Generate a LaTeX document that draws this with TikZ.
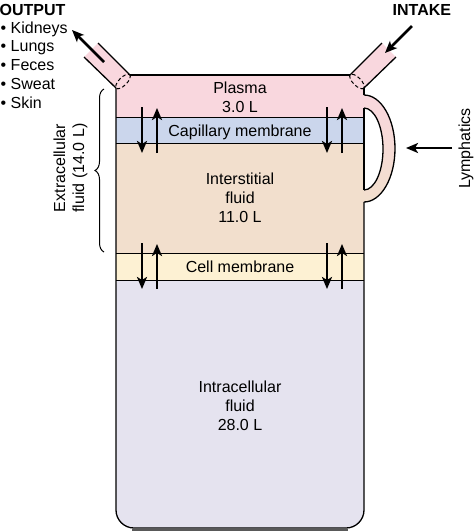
\documentclass[tikz,border=0pt]{standalone}
\usepackage{fontspec}
\setmainfont{Liberation Sans}
\usetikzlibrary{arrows.meta,decorations.pathreplacing,positioning}

\definecolor{plasmapink}{HTML}{F9D7DE}
\definecolor{capblue}{HTML}{CBD6EC}
\definecolor{istan}{HTML}{F2DFCD}
\definecolor{cellyellow}{HTML}{FDF1D3}
\definecolor{iclav}{HTML}{E5E3EF}

\tikzset{
  wall/.style={line width=1.3pt},
  sep/.style={line width=1pt},
  flux/.style={line width=2.5pt, -{Stealth[length=12pt,width=10pt,inset=3pt]}},
  fluidtext/.style={font=\fontsize{16}{19}\selectfont, align=center, inner sep=0pt, anchor=base},
  listitem/.style={font=\fontsize{16}{19}\selectfont, inner sep=0pt, anchor=base west},
  joint/.style={line width=1pt, dash pattern=on 3.5pt off 2.5pt},
}

\begin{document}
\begin{tikzpicture}[x=1pt,y=-1pt]
    \useasboundingbox (0,0) rectangle (474,531);

    % spouts
    \fill[plasmapink] (130,75) -- (98,43) -- (84,57) -- (116,88) -- cycle;
    \fill[plasmapink] (350,75) -- (382,43) -- (396,57) -- (364,88) -- cycle;

    % compartments
    \fill[iclav, rounded corners=18pt] (116,270) rectangle (364,528);
    \fill[plasmapink] (116,88) -- (130,75) -- (350,75) -- (364,88) -- (364,117) -- (116,117) -- cycle;
    \fill[capblue] (116,117) rectangle (364,143);
    \fill[istan] (116,143) rectangle (364,253);
    \fill[cellyellow] (116,253) rectangle (364,280);
    \fill[black!65] (132,528.5) rectangle (348,532);

    % handle
    \shade[top color=plasmapink, bottom color=istan]
        (364,95) arc[start angle=-90, end angle=90, x radius=31, y radius=53.5]
        -- (364,190) arc[start angle=90, end angle=-90, x radius=19, y radius=41] -- cycle;
    \draw[wall] (364,95) arc[start angle=-90, end angle=90, x radius=31, y radius=53.5];
    \draw[wall] (364,190) arc[start angle=90, end angle=-90, x radius=19, y radius=41];

    % membranes
    \draw[sep] (116,117) -- (364,117);
    \draw[sep] (116,143) -- (364,143);
    \draw[sep] (116,253) -- (364,253);
    \draw[sep] (116,280) -- (364,280);

    % outline
    \draw[wall] (130,75) -- (98,43);
    \draw[wall] (116,88) -- (84,57);
    \draw[wall] (350,75) -- (382,43);
    \draw[wall] (364,88) -- (396,57);
    \draw[wall] (130,75) -- (350,75);
    \draw[wall] (364,88) -- (364,95) (364,108) -- (364,190);
    \draw[wall, rounded corners=18pt] (364,202) -- (364,528) -- (116,528) -- (116,88);
    \draw[joint, rotate around={45:(123,81.5)}] (123,81.5) ellipse [x radius=9.5, y radius=4];
    \draw[joint, rotate around={-45:(357,81.5)}] (357,81.5) ellipse [x radius=9.5, y radius=4];

    % labels (base = last line)
    \node[fluidtext] (plasma) at (240,112.7) {Plasma\\3.0 L};
    \node[fluidtext] (capmem) at (240,136) {Capillary membrane};
    \node[fluidtext] (interstitial) at (240,222.7) {Interstitial\\fluid\\11.0 L};
    \node[fluidtext] (cellmem) at (240,272.5) {Cell membrane};
    \node[fluidtext] (intracellular) at (240,430) {Intracellular\\fluid\\28.0 L};

    \node[listitem, font=\fontsize{16}{19}\selectfont\bfseries] (output) at (-0.5,15) {OUTPUT};
    \node[listitem] (kidneys) at (0.5,33) {\textbullet\ Kidneys};
    \node[listitem] (lungs) at (0.5,51.7) {\textbullet\ Lungs};
    \node[listitem] (feces) at (0.5,70.5) {\textbullet\ Feces};
    \node[listitem] (sweat) at (0.5,89.3) {\textbullet\ Sweat};
    \node[listitem] (skin) at (0.5,108) {\textbullet\ Skin};
    \node[listitem, font=\fontsize{16}{19}\selectfont\bfseries] (intake) at (392.5,15) {INTAKE};

    \node[fluidtext, rotate=90] (lymph) at (470,148.5) {Lymphatics};
    \node[fluidtext, rotate=90] (ecf) at (84,168) {Extracellular\\fluid (14.0 L)};

    % brace
    \draw[line width=1pt, decorate, decoration={brace, amplitude=9pt}] (104,252) -- (104,89);

    % flows
    \coordinate (outfrom) at (104,62);
    \coordinate (outto) at (72,30);
    \coordinate (infrom) at (412,26);
    \coordinate (into) at (385,53);
    \coordinate (lymfrom) at (452,148);
    \coordinate (lymto) at (406,148);
    \draw[flux] (outfrom) -- (outto);
    \draw[flux] (infrom) -- (into);
    \draw[flux] (lymfrom) -- (lymto);

    \foreach \xd/\s in {142/l,327/r}{
        \coordinate (capdn\s) at (\xd,107);
        \coordinate (capup\s) at (\xd+15,153);
        \coordinate (celldn\s) at (\xd,243);
        \coordinate (cellup\s) at (\xd+15,289);
        \draw[flux] (capdn\s) -- ++(0,46);
        \draw[flux] (capup\s) -- ++(0,-45);
        \draw[flux] (celldn\s) -- ++(0,46);
        \draw[flux] (cellup\s) -- ++(0,-45);
    }
\end{tikzpicture}
\end{document}
